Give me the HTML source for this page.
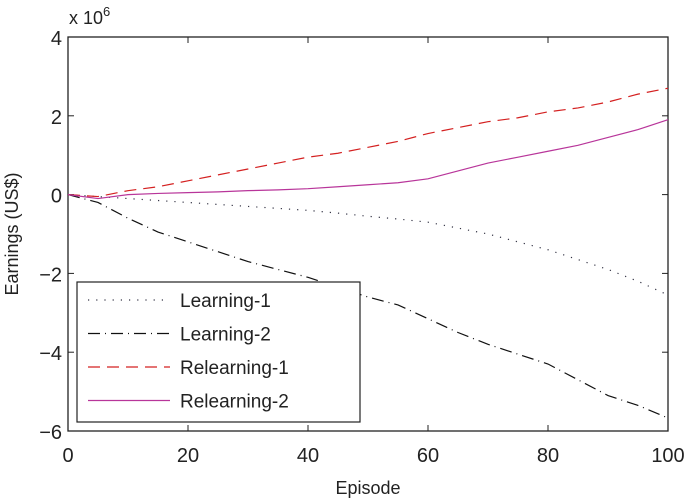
<!DOCTYPE html>
<html><head><meta charset="utf-8"><style>
body{margin:0;background:#fff;}
svg text{font-family:"Liberation Sans",sans-serif;fill:#222;}
</style></head><body>
<svg id="chart" width="689" height="498" xmlns="http://www.w3.org/2000/svg"></svg>
<script>
const episodes=[0,5,10,15,20,25,30,35,40,45,50,55,60,65,70,75,80,85,90,95,100];
const learning1=[0,-0.05,-0.1,-0.15,-0.2,-0.25,-0.3,-0.35,-0.4,-0.47,-0.55,-0.62,-0.7,-0.85,-1.0,-1.2,-1.4,-1.65,-1.9,-2.2,-2.55];
const learning2=[0,-0.2,-0.6,-0.95,-1.2,-1.45,-1.7,-1.9,-2.1,-2.35,-2.6,-2.8,-3.15,-3.5,-3.8,-4.05,-4.3,-4.7,-5.1,-5.35,-5.67];
const relearning1=[0,-0.05,0.1,0.2,0.35,0.5,0.65,0.8,0.95,1.05,1.2,1.35,1.55,1.7,1.85,1.95,2.1,2.2,2.35,2.55,2.7];
const relearning2=[0,-0.1,0.0,0.03,0.05,0.07,0.1,0.12,0.15,0.2,0.25,0.3,0.4,0.6,0.8,0.95,1.1,1.25,1.45,1.65,1.9];
const xTicks=[0,20,40,60,80,100];
const yTicks=[4,2,0,-2,-4,-6];
const L=68,R=668,T=37,B=431;
const X=v=>L+(v-0)/100*(R-L);
const Y=v=>T+(4-v)/10*(B-T);
const svg=document.getElementById('chart');
const NS='http://www.w3.org/2000/svg';
function el(tag,attrs,parent){const e=document.createElementNS(NS,tag);for(const k in attrs)e.setAttribute(k,attrs[k]);(parent||svg).appendChild(e);return e;}
let frame=el('rect',{x:L,y:T,width:R-L,height:B-T,fill:'none',stroke:'#222','stroke-width':1.3});


xTicks.forEach(t=>{
  const x=X(t);
  const a=el('line',{x1:x,x2:x,y1:B,y2:B-6,stroke:'#222'});
  
  
  el('line',{x1:x,x2:x,y1:T,y2:T+6,stroke:'#222'});
  const tx=el('text',{x:x,y:B+31,'text-anchor':'middle','font-size':20});
  tx.textContent=t;
  
  
});
yTicks.forEach(t=>{
  const y=Y(t);
  const a=el('line',{x1:L,x2:L+6,y1:y,y2:y,stroke:'#222'});
  
  
  el('line',{x1:R,x2:R-6,y1:y,y2:y,stroke:'#222'});
  const tx=el('text',{x:L-6,y:y+8,'text-anchor':'end','font-size':20});
  tx.textContent=t===0?'0':(t<0?'\u2212'+(-t):t);
  
  
});
let ex=el('text',{x:69,y:24,'font-size':18});ex.innerHTML='x 10<tspan dy="-8" font-size="13">6</tspan>';


let xt=el('text',{x:(L+R)/2,y:494,'text-anchor':'middle','font-size':18});xt.textContent='Episode';


let yt=el('text',{x:0,y:0,'text-anchor':'middle','font-size':18,transform:'translate(18,'+((T+B)/2)+') rotate(-90)'});yt.textContent='Earnings (US$)';


const series=[
 {d:learning1,name:'Learning-1',color:'#334',dash:'1.2 7',key:'learning-1'},
 {d:learning2,name:'Learning-2',color:'#111',dash:'12 5 1 5',key:'learning-2'},
 {d:relearning1,name:'Relearning-1',color:'#d42020',dash:'12 7',key:'relearning-1'},
 {d:relearning2,name:'Relearning-2',color:'#b8359a',dash:'none',key:'relearning-2'}
];
series.forEach(s=>{
  const pts=episodes.map((e,i)=>X(e)+','+Y(s.d[i])).join(' ');
  const p=el('polyline',{points:pts,fill:'none',stroke:s.color,'stroke-width':1.2,'stroke-dasharray':s.dash});
  
  
});
const lg=el('g',{});


el('rect',{x:77,y:282,width:283,height:140,fill:'#fff',stroke:'#222','stroke-width':1.2},lg);
series.forEach((s,i)=>{
  const y=300+i*33.5;
  const g=el('g',{},lg);
  
  
  el('line',{x1:88,x2:170,y1:y,y2:y,stroke:s.color,'stroke-width':1.2,'stroke-dasharray':s.dash},g);
  const t=el('text',{x:180,y:y+7,'font-size':19},g);t.textContent=s.name;
});
</script>
</body></html>
